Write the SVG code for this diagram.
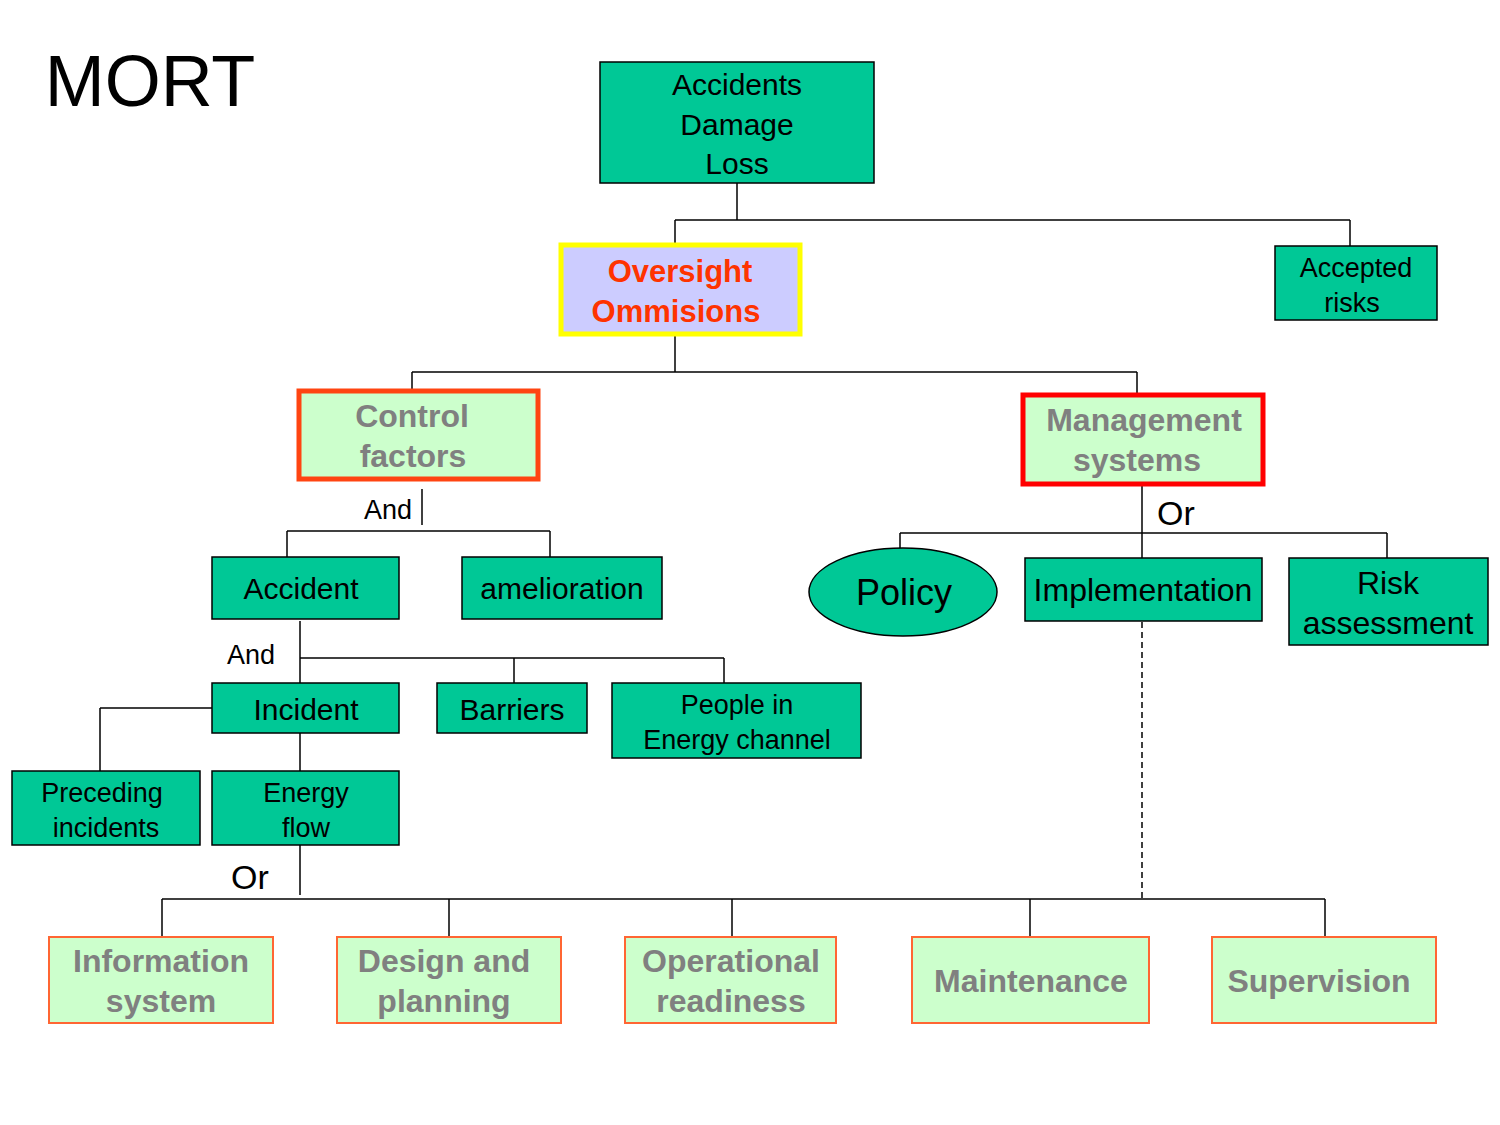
<svg xmlns="http://www.w3.org/2000/svg" width="1500" height="1125" viewBox="0 0 1500 1125">
<style>
.g{fill:#00c896;stroke:#000;stroke-width:1.5}
.b{fill:#ccffcc;stroke:#ff6633;stroke-width:2}
text{font-family:"Liberation Sans",Arial,sans-serif;text-anchor:middle}
.t{font-size:30px;fill:#000}
.s{font-size:27px;fill:#000}
.l{font-size:32px;font-weight:bold;fill:#808080}
.c line{stroke:#000;stroke-width:1.5}
</style>
<rect width="1500" height="1125" fill="#fff"/>
<text x="150" y="106" style="font-size:72px;text-anchor:middle">MORT</text>
<g class="c">
<line x1="737" y1="183" x2="737" y2="220"/><line x1="675" y1="220" x2="1350" y2="220"/>
<line x1="675" y1="220" x2="675" y2="245"/><line x1="1350" y1="220" x2="1350" y2="246"/>
<line x1="675" y1="334" x2="675" y2="372"/><line x1="412" y1="372" x2="1137" y2="372"/>
<line x1="412" y1="372" x2="412" y2="391"/><line x1="1137" y1="372" x2="1137" y2="395"/>
<line x1="422" y1="489" x2="422" y2="525"/>
<line x1="287" y1="531" x2="550" y2="531"/><line x1="287" y1="531" x2="287" y2="557"/><line x1="550" y1="531" x2="550" y2="557"/>
<line x1="300" y1="621" x2="300" y2="683"/><line x1="300" y1="658" x2="724" y2="658"/>
<line x1="514" y1="658" x2="514" y2="683"/><line x1="724" y1="658" x2="724" y2="683"/>
<line x1="212" y1="708" x2="100" y2="708"/><line x1="100" y1="708" x2="100" y2="771"/>
<line x1="300" y1="733" x2="300" y2="771"/>
<line x1="300" y1="845" x2="300" y2="895"/>
<line x1="162" y1="899" x2="1325" y2="899"/>
<line x1="162" y1="899" x2="162" y2="937"/><line x1="449" y1="899" x2="449" y2="937"/><line x1="732" y1="899" x2="732" y2="937"/><line x1="1030" y1="899" x2="1030" y2="937"/><line x1="1325" y1="899" x2="1325" y2="937"/>
<line x1="1142" y1="485" x2="1142" y2="558"/><line x1="900" y1="533" x2="1387" y2="533"/>
<line x1="900" y1="533" x2="900" y2="549"/><line x1="1387" y1="533" x2="1387" y2="558"/>
<line x1="1142" y1="622" x2="1142" y2="899" stroke-dasharray="6,4"/>
</g>
<g id="n-top"><rect class="g" x="600" y="62" width="274" height="121"/><text class="t" x="737" y="95">Accidents</text><text class="t" x="737" y="135">Damage</text><text class="t" x="737" y="174">Loss</text></g>
<g id="n-oversight"><rect x="561" y="245" width="239" height="89" fill="#ccccff" stroke="#ffff00" stroke-width="5"/><text x="680" y="282" style="font-size:31px;font-weight:bold;fill:#ff3300">Oversight</text><text x="676" y="322" style="font-size:31px;font-weight:bold;fill:#ff3300">Ommisions</text></g>
<g id="n-accepted"><rect class="g" x="1275" y="246" width="162" height="74"/><text class="s" x="1356" y="277">Accepted</text><text class="s" x="1352" y="312">risks</text></g>
<g id="n-control"><rect x="299" y="391" width="239" height="88" fill="#ccffcc" stroke="#ff4411" stroke-width="5"/><text class="l" x="412" y="427">Control</text><text class="l" x="413" y="467">factors</text></g>
<g id="n-mgmt"><rect x="1023" y="395" width="240" height="89" fill="#ccffcc" stroke="#ff0000" stroke-width="5"/><text class="l" x="1144" y="431">Management</text><text class="l" x="1137" y="471">systems</text></g>
<text class="s" x="388" y="519">And</text>
<text x="1176" y="525" style="font-size:34px">Or</text>
<g id="n-accident"><rect class="g" x="212" y="557" width="187" height="62"/><text class="t" x="301" y="599">Accident</text></g>
<g id="n-amel"><rect class="g" x="462" y="557" width="200" height="62"/><text class="t" x="562" y="599">amelioration</text></g>
<g id="n-policy"><ellipse class="g" cx="903" cy="592" rx="94" ry="44"/><text x="904" y="605" style="font-size:36px">Policy</text></g>
<g id="n-impl"><rect class="g" x="1025" y="558" width="237" height="63"/><text x="1143" y="601" style="font-size:32px">Implementation</text></g>
<g id="n-risk"><rect class="g" x="1289" y="558" width="199" height="87"/><text x="1388" y="594" style="font-size:32px">Risk</text><text x="1388" y="634" style="font-size:32px">assessment</text></g>
<text class="s" x="251" y="664">And</text>
<g id="n-incident"><rect class="g" x="212" y="683" width="187" height="50"/><text class="t" x="306" y="720">Incident</text></g>
<g id="n-barriers"><rect class="g" x="437" y="683" width="150" height="50"/><text class="t" x="512" y="720">Barriers</text></g>
<g id="n-people"><rect class="g" x="612" y="683" width="249" height="75"/><text class="s" x="737" y="714">People in</text><text class="s" x="737" y="749">Energy channel</text></g>
<g id="n-preceding"><rect class="g" x="12" y="771" width="188" height="74"/><text class="s" x="102" y="802">Preceding</text><text class="s" x="106" y="837">incidents</text></g>
<g id="n-energy"><rect class="g" x="212" y="771" width="187" height="74"/><text class="s" x="306" y="802">Energy</text><text class="s" x="306" y="837">flow</text></g>
<text x="250" y="889" style="font-size:34px">Or</text>
<g id="n-info"><rect class="b" x="49" y="937" width="224" height="86"/><text class="l" x="161" y="972">Information</text><text class="l" x="161" y="1012">system</text></g>
<g id="n-design"><rect class="b" x="337" y="937" width="224" height="86"/><text class="l" x="444" y="972">Design and</text><text class="l" x="444" y="1012">planning</text></g>
<g id="n-oper"><rect class="b" x="625" y="937" width="211" height="86"/><text class="l" x="731" y="972">Operational</text><text class="l" x="731" y="1012">readiness</text></g>
<g id="n-maint"><rect class="b" x="912" y="937" width="237" height="86"/><text class="l" x="1031" y="992">Maintenance</text></g>
<g id="n-super"><rect class="b" x="1212" y="937" width="224" height="86"/><text class="l" x="1319" y="992">Supervision</text></g>
</svg>
